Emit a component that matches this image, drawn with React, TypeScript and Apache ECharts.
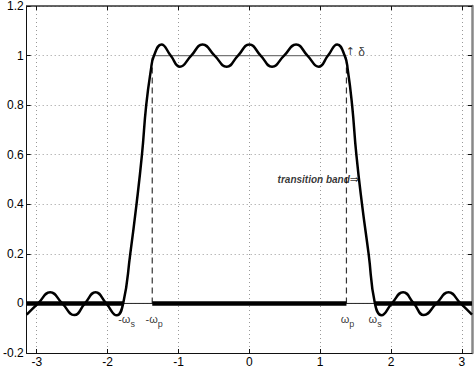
import React, { useEffect, useRef } from 'react';
import * as echarts from 'echarts';

const PI = Math.PI;
const xTicks = [-3, -2, -1, 0, 1, 2, 3];
const yMin = -0.2;
const yMax = 1.2;
const yStep = 0.2;
const omegaP = 1.37;
const omegaS = 1.775;

// Frequency response (extrema, level crossings, transition points)
const respX = [
  -3.1416, -2.98, -2.81, -2.64, -2.47, -2.32, -2.17, -2.02, -1.87, -1.78,
  -1.68, -1.592, -1.515, -1.455, -1.39, -1.345, -1.24, -1.11, -0.98, -0.82,
  -0.66, -0.49, -0.32, -0.16, 0, 0.16, 0.32, 0.49, 0.66, 0.82,
  0.98, 1.11, 1.24, 1.345, 1.39, 1.45, 1.51, 1.59, 1.683, 1.772,
  1.865, 2.01, 2.17, 2.32, 2.46, 2.64, 2.81, 2.98, 3.1416,
];
const respY = [
  -0.045, 0, 0.045, 0, -0.047, 0, 0.045, 0, -0.048, 0,
  0.2, 0.4, 0.6, 0.8, 0.94, 1.0, 1.045, 1.0, 0.955, 1.0,
  1.045, 1.0, 0.955, 1.0, 1.045, 1.0, 0.955, 1.0, 1.045, 1.0,
  0.955, 1.0, 1.045, 1.0, 0.94, 0.8, 0.6, 0.4, 0.2, 0,
  -0.048, 0, 0.045, 0, -0.047, 0, 0.045, 0, -0.045,
];

// Ideal response bands (thick segments on 0)
const bandStarts = [-PI, -omegaP, omegaS];
const bandEnds = [-omegaS, omegaP, PI];

const FONT = '"Liberation Sans", Arial, Helvetica, sans-serif';
const SYM = '"DejaVu Sans", sans-serif';
const INK = '#000';

export default function App() {
  const ref = useRef<HTMLDivElement>(null);
  useEffect(() => {
    if (!ref.current) return;
    const chart = echarts.init(ref.current, null, { renderer: 'svg' });
    const curve = respX.map((x, i) => [x, respY[i]]);
    const bandSeries = bandStarts.map((s, i) => ({
      type: 'line',
      data: [[s, 0], [bandEnds[i], 0]],
      symbol: 'none',
      lineStyle: { color: '#000', width: 4.5 },
      z: 3,
      silent: true,
    }));
    const sub = {
      w: { fontSize: 11, fontFamily: FONT, color: INK },
      s: { fontSize: 9, fontFamily: FONT, color: INK, padding: [9, 0, 0, 0] },
    };
    const subLabel = (text: string, dx: number) => ({
      show: true,
      position: 'bottom',
      distance: 7,
      formatter: text,
      rich: sub,
      color: INK,
      offset: [dx, 0],
    });
    const option: any = {
      animation: false,
      grid: { left: 24, right: 2, top: 4, bottom: 15 },
      xAxis: [
        {
          type: 'value',
          min: -PI,
          max: PI,
          position: 'bottom',
          axisLine: { show: true, onZero: false, lineStyle: { color: '#111', width: 1 } },
          axisTick: { show: true, inside: true, length: 4, customValues: xTicks, lineStyle: { color: '#111' } },
          axisLabel: { customValues: xTicks, fontFamily: FONT, fontSize: 12, color: INK, margin: 3 },
          splitLine: { show: true, lineStyle: { type: [1, 3], color: '#999', width: 1 } },
        },
        {
          type: 'value',
          min: -PI,
          max: PI,
          position: 'top',
          axisLine: { show: true, onZero: false, lineStyle: { color: '#333', width: 1.5 } },
          axisTick: { show: true, inside: true, length: 4, customValues: xTicks, lineStyle: { color: '#111' } },
          axisLabel: { show: false },
          splitLine: { show: false },
        },
      ],
      yAxis: [
        {
          type: 'value',
          min: yMin,
          max: yMax,
          interval: yStep,
          position: 'left',
          axisLine: { show: true, onZero: false, lineStyle: { color: '#111', width: 1 } },
          axisTick: { show: true, inside: true, length: 4, lineStyle: { color: '#111' } },
          axisLabel: { fontFamily: FONT, fontSize: 12, color: INK, margin: 3 },
          splitLine: { show: true, lineStyle: { type: [1, 3], color: '#999', width: 1 } },
        },
        {
          type: 'value',
          min: yMin,
          max: yMax,
          interval: yStep,
          position: 'right',
          axisLine: { show: true, onZero: false, lineStyle: { color: '#888', width: 2.5 } },
          axisTick: { show: true, inside: true, length: 4, lineStyle: { color: '#111' } },
          axisLabel: { show: false },
          splitLine: { show: false },
        },
      ],
      series: [
        {
          type: 'line',
          data: [[-PI, 0], [PI, 0]],
          symbol: 'none',
          lineStyle: { color: '#222', width: 1 },
          z: 2,
          silent: true,
        },
        {
          type: 'line',
          data: [[-omegaP, 1], [omegaP, 1]],
          symbol: 'none',
          lineStyle: { color: '#777', width: 1.2 },
          z: 2,
          silent: true,
        },
        {
          type: 'line',
          data: [[-omegaP, 0], [-omegaP, 1]],
          symbol: 'none',
          lineStyle: { color: '#333', width: 1.2, type: [6, 4] },
          z: 2,
          silent: true,
        },
        {
          type: 'line',
          data: [[omegaP, 0], [omegaP, 1]],
          symbol: 'none',
          lineStyle: { color: '#333', width: 1.2, type: [6, 4] },
          z: 2,
          silent: true,
        },
        ...bandSeries,
        {
          type: 'line',
          data: curve,
          symbol: 'none',
          smooth: 0.5,
          lineStyle: { color: '#000', width: 2.5 },
          z: 4,
          silent: true,
        },
        {
          type: 'scatter',
          symbolSize: 0,
          silent: true,
          z: 5,
          itemStyle: { color: INK },
          data: [
            { value: [-omegaS, 0], label: subLabel('{w|-ω}{s|s}', 3) },
            { value: [-omegaP, 0], label: subLabel('{w|-ω}{s|p}', 2) },
            { value: [omegaP, 0], label: subLabel('{w|ω}{s|p}', 1) },
            { value: [omegaS, 0], label: subLabel('{w|ω}{s|s}', 0) },
            {
              value: [1.36, 1.015],
              label: {
                show: true,
                position: 'right',
                distance: 0,
                color: INK,
                formatter: '{a|↑}{d| δ}',
                rich: {
                  a: { fontFamily: SYM, fontSize: 11, color: INK },
                  d: { fontFamily: FONT, fontSize: 12, color: INK },
                },
              },
            },
            {
              value: [1.548, 0.498],
              label: {
                show: true,
                position: 'left',
                distance: 0,
                color: INK,
                formatter: '{t|transition band}{a|⇒}',
                rich: {
                  t: { fontFamily: FONT, fontSize: 10, fontWeight: 'bold', fontStyle: 'italic', color: INK },
                  a: { fontFamily: SYM, fontSize: 11, color: INK },
                },
              },
            },
          ],
        },
      ],
    };
    chart.setOption(option);
    return () => chart.dispose();
  }, []);
  return (
    <div
      ref={ref}
      style={{ position: 'fixed', left: 0, top: 0, width: 474, height: 368, background: '#fff' }}
    />
  );
}
